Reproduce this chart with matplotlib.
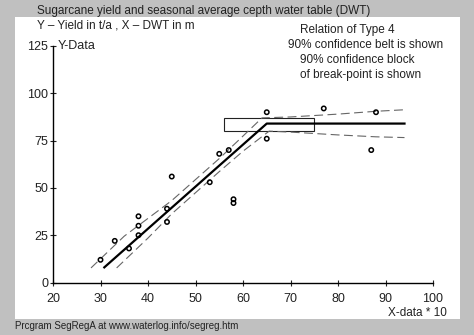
import matplotlib.pyplot as plt
from matplotlib.patches import Rectangle

plt.rcParams['font.family'] = ['Liberation Sans', 'DejaVu Sans']

# observed data (X-data * 10, yield t/a)
x_obs = [30, 33, 36, 38, 38, 38, 44, 44, 45, 53, 55, 57, 58, 58, 65, 65, 77, 88, 87]
y_obs = [12, 22, 18, 35, 30, 25, 39, 32, 56, 53, 68, 70, 44, 42, 90, 76, 92, 90, 70]

# fitted broken-line regression
fit_x = [30.8, 65, 94]
fit_y = [8, 84, 84]

# 90% confidence belt
upper_x = [28, 35, 45, 55, 60, 64, 70, 80, 88, 94]
upper_y = [7.7, 24.5, 43.3, 65.5, 77.4, 87, 87.5, 89, 90.5, 91.3]
lower_x = [33.4, 40, 45, 55, 60, 65.5, 70, 80, 88, 94]
lower_y = [7.7, 23.5, 36.3, 58.6, 69.4, 80, 79.5, 78, 77, 76.6]

# 90% confidence block of the break-point
block_x = [56, 75]
block_y = [80, 87]

xticks = [20, 30, 40, 50, 60, 70, 80, 90, 100]
yticks = [0, 25, 50, 75, 100, 125]

fig = plt.figure(figsize=(4.74, 3.35), dpi=100)
fig.patch.set_facecolor('#c0c0c0')
fig.patches.append(Rectangle((15 / 474, 1 - 319 / 335), 445 / 474, 302 / 335,
                             transform=fig.transFigure, facecolor='white',
                             edgecolor='none', zorder=0))

ax = fig.add_axes([53 / 474, 1 - 282.5 / 335, 380 / 474, 236.5 / 335])
ax.set_zorder(2)
ax.set_facecolor('none')
ax.set_xlim(20, 100)
ax.set_ylim(0, 125)
for s in ['top', 'right']:
    ax.spines[s].set_visible(False)
ax.spines['left'].set_linewidth(1)
ax.spines['bottom'].set_linewidth(1)

ax.set_xticks(xticks)
ax.set_xticklabels([str(v) for v in xticks])
ax.set_yticks(yticks)
ax.tick_params(axis='both', direction='inout', length=5, width=0.8,
               labelsize=9, colors='#222222')
ax.tick_params(axis='x', pad=5)
ax.tick_params(axis='y', pad=1)

ax.plot(upper_x, upper_y, color='#666666', lw=0.8, dashes=(8, 4))
ax.plot(lower_x, lower_y, color='#666666', lw=0.8, dashes=(8, 4))
ax.plot(fit_x, fit_y, color='black', lw=1.6)
ax.add_patch(Rectangle((block_x[0], block_y[0]), block_x[1] - block_x[0],
                       block_y[1] - block_y[0], fill=False, edgecolor='#222222', lw=0.8))
ax.scatter(x_obs, y_obs, s=10, facecolors='none', edgecolors='black', linewidths=1.1, zorder=5)

ax.text(21, 125, 'Y-Data', va='center', ha='left', fontsize=9, color='#222222')

fig.text(37 / 474, 1 - 11 / 335, 'Sugarcane yield and seasonal average cepth water table (DWT)',
         fontsize=8.5, va='center', ha='left', color='#222222')
fig.text(37 / 474, 1 - 25 / 335, 'Y \u2013 Yield in t/a , X \u2013 DWT in m',
         fontsize=8.5, va='center', ha='left', color='#222222')
fig.text(300 / 474, 1 - 30 / 335, 'Relation of Type 4', fontsize=8.5, va='center', color='#222222')
fig.text(288 / 474, 1 - 45 / 335, '90% confidence belt is shown', fontsize=8.5, va='center', color='#222222')
fig.text(300 / 474, 1 - 60 / 335, '90% confidence block', fontsize=8.5, va='center', color='#222222')
fig.text(300 / 474, 1 - 75 / 335, 'of break-point is shown', fontsize=8.5, va='center', color='#222222')
fig.text(447 / 474, 1 - 313 / 335, 'X-data * 10', fontsize=8.5, va='center', ha='right', color='#222222')
fig.text(15 / 474, 1 - 326 / 335, 'Prcgram SegRegA at www.waterlog.info/segreg.htm',
         fontsize=7, va='center', ha='left', color='#222222')

fig.savefig('out.png', dpi=100, facecolor=fig.get_facecolor())
